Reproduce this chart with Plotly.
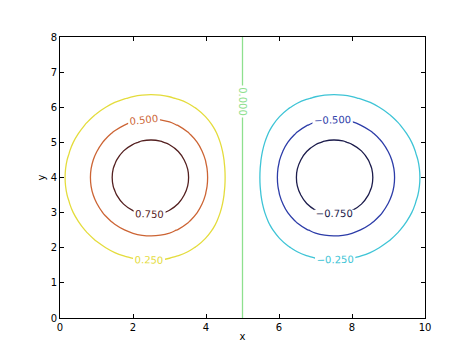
import plotly.graph_objects as go

# grid coordinates
x_vals = [0.0, 0.25, 0.5, 0.75, 1.0, 1.25, 1.5, 1.75, 2.0, 2.25, 2.5, 2.75, 3.0, 3.25,
          3.5, 3.75, 4.0, 4.25, 4.5, 4.75, 5.0, 5.25, 5.5, 5.75, 6.0, 6.25, 6.5, 6.75,
          7.0, 7.25, 7.5, 7.75, 8.0, 8.25, 8.5, 8.75, 9.0, 9.25, 9.5, 9.75, 10.0]
y_vals = [0.0, 0.25, 0.5, 0.75, 1.0, 1.25, 1.5, 1.75, 2.0, 2.25, 2.5, 2.75, 3.0, 3.25,
          3.5, 3.75, 4.0, 4.25, 4.5, 4.75, 5.0, 5.25, 5.5, 5.75, 6.0, 6.25, 6.5, 6.75,
          7.0, 7.25, 7.5, 7.75, 8.0]

# field profile along x through the centre line y = 4
x_profile = [0.2096, 0.2820, 0.3679, 0.4650, 0.5697, 0.6766, 0.7787, 0.8686, 0.9389,
             0.9835, 0.9981, 0.9810, 0.9331, 0.8579, 0.7605, 0.6469, 0.5230, 0.3937,
             0.2625, 0.1311, 0.0, -0.1311, -0.2625, -0.3937, -0.5230, -0.6469, -0.7605,
             -0.8579, -0.9331, -0.9810, -0.9981, -0.9835, -0.9389, -0.8686, -0.7787,
             -0.6766, -0.5697, -0.4650, -0.3679, -0.2820, -0.2096]

# relative fall-off of the field along y
y_profile = [0.0183, 0.0297, 0.0468, 0.0713, 0.1054, 0.1510, 0.2096, 0.2821, 0.3679,
             0.4650, 0.5698, 0.6766, 0.7788, 0.8688, 0.9394, 0.9845, 1.0, 0.9845,
             0.9394, 0.8688, 0.7788, 0.6766, 0.5698, 0.4650, 0.3679, 0.2821, 0.2096,
             0.1510, 0.1054, 0.0713, 0.0468, 0.0297, 0.0183]

levels_start = -0.75
levels_end = 0.75
levels_step = 0.25

x_ticks = [0, 2, 4, 6, 8, 10]
y_ticks = [0, 1, 2, 3, 4, 5, 6, 7, 8]

# table of field values built from the two profiles (rows = y, columns = x)
z_table = [[fy * fx for fx in x_profile] for fy in y_profile]

line_colors = [
    [0.0, "#1c1c4c"],
    [1 / 6, "#2c3ca8"],
    [2 / 6, "#3ec4d6"],
    [3 / 6, "#8ee08e"],
    [4 / 6, "#e4dc3c"],
    [5 / 6, "#cc6434"],
    [1.0, "#542020"],
]

FONT = "DejaVu Sans"

fig = go.Figure(
    go.Contour(
        x=x_vals,
        y=y_vals,
        z=z_table,
        contours=dict(
            start=levels_start,
            end=levels_end,
            size=levels_step,
            coloring="lines",
            showlabels=True,
            labelformat=".3f",
            labelfont=dict(family=FONT, size=10),
        ),
        colorscale=line_colors,
        zmin=levels_start,
        zmax=levels_end,
        line=dict(width=1.3, smoothing=1.3),
        showscale=False,
        hoverinfo="skip",
    )
)

axis_common = dict(
    showgrid=False,
    zeroline=False,
    showline=True,
    linecolor="black",
    linewidth=1,
    mirror="ticks",
    ticks="inside",
    ticklen=4,
    tickcolor="black",
    tickfont=dict(family=FONT, size=10, color="black"),
)

fig.update_layout(
    width=466,
    height=348,
    margin=dict(l=52, r=49, t=29, b=38),
    paper_bgcolor="white",
    plot_bgcolor="white",
    font=dict(family=FONT, size=10, color="black"),
    xaxis=dict(
        range=[0, 10],
        tickvals=x_ticks,
        title=dict(text="x", font=dict(family=FONT, size=10), standoff=0),
        **axis_common,
    ),
    yaxis=dict(
        range=[0, 8],
        tickvals=y_ticks,
        title=dict(text="y", font=dict(family=FONT, size=10), standoff=3),
        **axis_common,
    ),
)

fig.write_html("out.html")
